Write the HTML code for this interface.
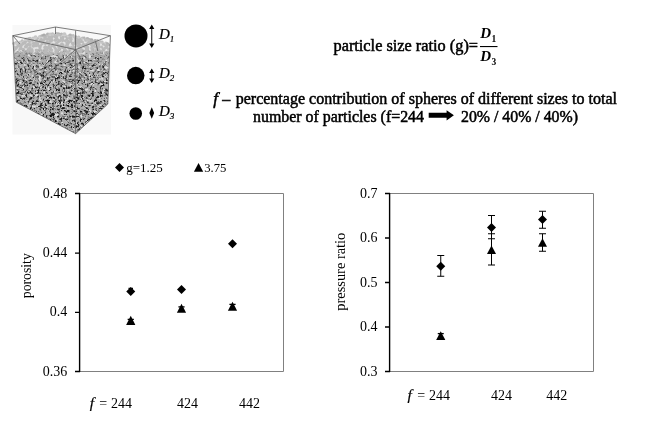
<!DOCTYPE html>
<html><head><meta charset="utf-8"><title>figure</title>
<style>
html,body{margin:0;padding:0;background:#fff;}
svg{display:block;font-family:"Liberation Serif",serif;fill:#000;}
.ax{font-size:14px;}
.lg{font-size:13.5px;}
.t{font-size:16px;stroke:#000;stroke-width:0.5;}
.it{font-style:italic;}
.d{stroke:#000;stroke-width:0.2;}
</style></head><body>
<svg width="660" height="424" viewBox="0 0 660 424">
<defs>
<filter id="nl" x="0" y="0" width="100%" height="100%" color-interpolation-filters="sRGB">
<feTurbulence type="fractalNoise" baseFrequency="0.36" numOctaves="1" seed="5"/>
<feColorMatrix type="matrix" values="0 0 0 0 0.871  0 0 0 0 0.871  0 0 0 0 0.871  0 0 0 6 -3.15"/>
</filter>
<filter id="nm" x="0" y="0" width="100%" height="100%" color-interpolation-filters="sRGB">
<feTurbulence type="fractalNoise" baseFrequency="0.38" numOctaves="2" seed="21"/>
<feColorMatrix type="matrix" values="0 0 0 0 0.439  0 0 0 0 0.439  0 0 0 0 0.439  0 0 0 7 -3.85"/>
</filter>
<filter id="nd" x="0" y="0" width="100%" height="100%" color-interpolation-filters="sRGB">
<feTurbulence type="fractalNoise" baseFrequency="0.4" numOctaves="2" seed="3"/>
<feColorMatrix type="matrix" values="0 0 0 0 0.039  0 0 0 0 0.039  0 0 0 0 0.039  0 0 0 7 -4.15"/>
</filter>
<filter id="nd2" x="0" y="0" width="100%" height="100%" color-interpolation-filters="sRGB">
<feTurbulence type="fractalNoise" baseFrequency="0.38" numOctaves="2" seed="11"/>
<feColorMatrix type="matrix" values="0 0 0 0 0.078  0 0 0 0 0.078  0 0 0 0 0.078  0 0 0 7 -4.0"/>
</filter>
<filter id="soft" x="-5%" y="-5%" width="110%" height="110%"><feGaussianBlur stdDeviation="0.35"/></filter>
<linearGradient id="fade" x1="0" y1="0" x2="0" y2="1">
<stop offset="0" stop-color="#fff" stop-opacity="0"/><stop offset="0.12" stop-color="#fff" stop-opacity="0.9"/><stop offset="1" stop-color="#fff" stop-opacity="1"/>
</linearGradient>
<mask id="lower" maskUnits="userSpaceOnUse" x="10" y="30" width="104" height="106"><rect x="10" y="49" width="104" height="90" fill="url(#fade)"/></mask>
<linearGradient id="fade2" x1="0" y1="0" x2="0" y2="1">
<stop offset="0" stop-color="#fff" stop-opacity="0"/><stop offset="0.4" stop-color="#fff" stop-opacity="1"/><stop offset="1" stop-color="#fff" stop-opacity="1"/>
</linearGradient>
<mask id="lower2" maskUnits="userSpaceOnUse" x="10" y="30" width="104" height="106"><rect x="10" y="54" width="104" height="85" fill="url(#fade2)"/></mask>
<clipPath id="sides"><polygon points="13.5,44 30,38.5 55,33.5 75.5,36.4 110,44 107.8,104 75.6,133.6 16.3,102.2"/></clipPath>
</defs>
<rect width="660" height="424" fill="#fff"/>
<!-- particle box -->
<rect x="12.5" y="25" width="98.5" height="109.5" fill="#f8f8f8"/>
<polygon points="13.5,44 30,38.5 55,33.5 75.5,36.4 110,44 107.8,104 75.6,133.6 16.3,102.2" fill="#adadad"/>
<g clip-path="url(#sides)"><g filter="url(#soft)">
<rect x="10" y="30" width="104" height="106" filter="url(#nl)"/>
<g mask="url(#lower)">
<rect x="10" y="30" width="104" height="106" filter="url(#nm)"/>
<rect x="10" y="30" width="104" height="106" filter="url(#nd)"/>
<g mask="url(#lower2)"><rect x="10" y="30" width="104" height="106" filter="url(#nd2)"/></g>
</g>
</g></g>
<g><circle cx="13.9" cy="43.4" r="1.7" fill="#bebebe"/><circle cx="16.4" cy="42.5" r="1.8" fill="#c6c6c6"/><circle cx="20.3" cy="42.2" r="1.6" fill="#c6c6c6"/><circle cx="22.2" cy="40.7" r="1.5" fill="#bebebe"/><circle cx="26.1" cy="39.3" r="1.8" fill="#c6c6c6"/><circle cx="28.6" cy="38.6" r="1.6" fill="#c6c6c6"/><circle cx="30.1" cy="38.7" r="1.9" fill="#bebebe"/><circle cx="33.1" cy="37.9" r="1.5" fill="#c6c6c6"/><circle cx="35.6" cy="37.2" r="1.9" fill="#c6c6c6"/><circle cx="39.7" cy="36.7" r="1.7" fill="#c6c6c6"/><circle cx="41.8" cy="35.8" r="1.6" fill="#b4b4b4"/><circle cx="44.0" cy="35.7" r="2.1" fill="#aaaaaa"/><circle cx="47.8" cy="34.5" r="1.9" fill="#b4b4b4"/><circle cx="50.1" cy="34.2" r="1.8" fill="#c6c6c6"/><circle cx="52.5" cy="34.0" r="1.8" fill="#bebebe"/><circle cx="56.6" cy="33.3" r="1.4" fill="#bebebe"/><circle cx="58.4" cy="34.2" r="2.0" fill="#b4b4b4"/><circle cx="61.4" cy="34.1" r="1.7" fill="#b4b4b4"/><circle cx="64.4" cy="34.3" r="2.1" fill="#c6c6c6"/><circle cx="68.0" cy="36.1" r="1.4" fill="#c6c6c6"/><circle cx="70.2" cy="35.3" r="1.9" fill="#b4b4b4"/><circle cx="73.1" cy="35.7" r="1.7" fill="#bebebe"/><circle cx="75.9" cy="36.7" r="1.5" fill="#b4b4b4"/><circle cx="78.7" cy="37.1" r="1.7" fill="#c6c6c6"/><circle cx="82.4" cy="38.1" r="1.7" fill="#bebebe"/><circle cx="84.1" cy="38.0" r="1.4" fill="#b4b4b4"/><circle cx="87.3" cy="39.2" r="2.1" fill="#b4b4b4"/><circle cx="89.6" cy="39.7" r="1.6" fill="#b4b4b4"/><circle cx="91.6" cy="40.1" r="1.9" fill="#aaaaaa"/><circle cx="95.1" cy="40.4" r="1.5" fill="#aaaaaa"/><circle cx="97.4" cy="40.7" r="1.7" fill="#bebebe"/><circle cx="100.4" cy="41.9" r="1.6" fill="#bebebe"/><circle cx="102.1" cy="42.0" r="1.6" fill="#bebebe"/><circle cx="105.9" cy="43.1" r="1.6" fill="#c6c6c6"/><circle cx="107.4" cy="44.1" r="1.8" fill="#aaaaaa"/></g>
<polygon points="13.5,44 30,38.5 55,33.5 75.5,36.4 110,44 109.8,50 75.6,57 14,51" fill="#fff" opacity="0.16"/>
<g fill="none" stroke="#5c5c5c" stroke-width="0.8">
<polygon points="12.8,35.7 55.5,27 110.4,35.7 75.6,49.6"/>
<path d="M12.8,35.7 L16.3,102.2 M110.4,35.7 L107.8,104 M75.6,30.5 L75.6,133.6 M55.5,27 L55.5,34 M75.6,49.6 L45,76 M75.6,49.6 L84,65 M95.6,41.7 L97.8,51 M12.8,35.7 L20,44 M16.3,102.2 L75.6,133.6 L107.8,104"/>
</g>
<!-- sphere legend -->
<circle cx="136" cy="35.9" r="11.5"/>
<circle cx="135.75" cy="75.6" r="8.75"/>
<circle cx="135.75" cy="113.5" r="6.3"/>
<g stroke="#000" stroke-width="1" fill="#000">
<path d="M151.75,27 V45.5"/><path d="M151.75,24.5 l-2.6,4.5 h5.2z M151.75,48 l-2.6,-4.5 h5.2z" stroke="none"/>
<path d="M151.75,71 V80.5"/><path d="M151.75,68.5 l-2.6,4.5 h5.2z M151.75,83 l-2.6,-4.5 h5.2z" stroke="none"/>
<path d="M151.75,107.3 l-2.4,5.7 l2.4,5.7 l2.4,-5.7z" stroke="none"/>
</g>
<text x="159" y="38.6" class="it d" font-size="15">D<tspan font-size="9" dy="3">1</tspan></text>
<text x="159" y="78" class="it d" font-size="15">D<tspan font-size="9" dy="3">2</tspan></text>
<text x="159" y="116.3" class="it d" font-size="15">D<tspan font-size="9" dy="3">3</tspan></text>
<!-- header text -->
<text x="333.5" y="50.8" class="t" textLength="144.5" lengthAdjust="spacingAndGlyphs">particle size ratio (g)=</text>
<text x="480.3" y="38.3" font-size="15" font-weight="bold" class="it">D<tspan font-size="9.5" dy="3.5" dx="0.3" font-style="normal">1</tspan></text>
<rect x="480" y="46" width="17.5" height="1.1"/>
<text x="480.3" y="61" font-size="15" font-weight="bold" class="it">D<tspan font-size="9.5" dy="3.5" dx="0.3" font-style="normal">3</tspan></text>
<text x="213.3" y="104.1" class="t it" style="font-size:17px">f</text><text x="222.3" y="104.1" class="t">–</text>
<text x="235.7" y="104.1" class="t" textLength="381.3" lengthAdjust="spacingAndGlyphs">percentage contribution of spheres of different sizes to total</text>
<text x="253" y="121.6" class="t" textLength="171" lengthAdjust="spacingAndGlyphs">number of particles (f=244</text>
<path d="M428.7,112.8 H446.6 V110.2 L453.9,115.3 L446.6,120.4 V117.8 H428.7z"/>
<text x="461" y="121.6" class="t" textLength="117" lengthAdjust="spacingAndGlyphs">20% / 40% / 40%)</text>
<!-- legend -->
<path d="M119.5,163 l4.5,4.5 l-4.5,4.5 l-4.5,-4.5z"/>
<text x="126.2" y="172" class="lg" textLength="36.6" lengthAdjust="spacingAndGlyphs">g=1.25</text>
<path d="M198.55,163 l4.65,8.8 h-9.3z"/>
<text x="204.2" y="172" class="lg" textLength="22.3" lengthAdjust="spacingAndGlyphs">3.75</text>
<!-- left chart -->
<g fill="none">
<path d="M80,193.5 H283.5 V371.5 H80" stroke="#808080" stroke-width="1"/>
<path d="M79.6,193 V372" stroke="#000" stroke-width="1.4"/><path d="M75,193.5 H80 M75,253.1 H80 M75,312.3 H80 M75,371.5 H80" stroke="#000" stroke-width="1.3"/>
</g>
<g class="ax" text-anchor="end">
<text x="67.3" y="198">0.48</text>
<text x="67.3" y="257.2">0.44</text>
<text x="67.3" y="316.3">0.4</text>
<text x="67.3" y="375.5">0.36</text>
</g>
<text class="ax" style="font-size:14.4px" transform="translate(31.2,298.2) rotate(-90)" textLength="45" lengthAdjust="spacingAndGlyphs">porosity</text>
<g>
<path d="M130.75,286.9 l4.5,4.5 l-4.5,4.5 l-4.5,-4.5z"/>
<path d="M181.5,285 l4.5,4.5 l-4.5,4.5 l-4.5,-4.5z"/>
<path d="M232.5,239.25 l4.5,4.5 l-4.5,4.5 l-4.5,-4.5z"/>
<path d="M130.75,315.8 l4.6,9.1 h-9.2z"/>
<path d="M181.5,303.7 l4.6,9.1 h-9.2z"/>
<path d="M232.5,301.7 l4.6,9.1 h-9.2z"/>
<path d="M127.65,319.3 h6.2 M178.4,306.8 h6.2 M229.4,304.4 h6.2 M128.5,288.3 h4.5" stroke="#000" stroke-width="1.3" fill="none"/>
</g>
<text y="408" class="ax"><tspan class="it d" x="89.8" font-size="15.5">f</tspan><tspan x="99.3">=</tspan><tspan x="111">244</tspan></text>
<text x="177" y="408" class="ax">424</text>
<text x="239" y="408" class="ax">442</text>
<!-- right chart -->
<g fill="none">
<path d="M389.5,193.5 H593.5 V371.5 H389.5" stroke="#808080" stroke-width="1"/>
<path d="M389.6,193 V372" stroke="#000" stroke-width="1.4"/><path d="M385,193.5 H390 M385,238 H390 M385,282.5 H390 M385,327 H390 M385,371.5 H390" stroke="#000" stroke-width="1.3"/>
</g>
<g class="ax" text-anchor="end">
<text x="377.5" y="198">0.7</text>
<text x="377.5" y="242.4">0.6</text>
<text x="377.5" y="286.8">0.5</text>
<text x="377.5" y="331.1">0.4</text>
<text x="377.5" y="375.5">0.3</text>
</g>
<text class="ax" style="font-size:14.6px" transform="translate(344.6,310.7) rotate(-90)" textLength="78" lengthAdjust="spacingAndGlyphs">pressure ratio</text>
<g stroke="#000" stroke-width="1" fill="none">
<path d="M440.75,255.5 V276.25 M437.25,255.5 h7 M437.25,276.25 h7"/>
<path d="M491.5,215.5 V238.75 M488,215.5 h7 M488,238.75 h7"/>
<path d="M542.5,211.25 V228.25 M539,211.25 h7 M539,228.25 h7"/>
<path d="M437.75,333.6 h6" stroke-width="1.3"/>
<path d="M491.5,233.75 V265 M488,233.75 h7 M488,265 h7"/>
<path d="M542.5,233.75 V251.25 M539,233.75 h7 M539,251.25 h7"/>
</g>
<g>
<path d="M440.75,261.75 l4.5,4.5 l-4.5,4.5 l-4.5,-4.5z"/>
<path d="M491.5,223 l4.5,4.5 l-4.5,4.5 l-4.5,-4.5z"/>
<path d="M542.5,215 l4.5,4.5 l-4.5,4.5 l-4.5,-4.5z"/>
<path d="M440.75,331.2 l4.6,8.8 h-9.2z"/>
<path d="M491.5,245.5 l4.5,8.5 h-9z"/>
<path d="M542.5,238.25 l4.5,8.5 h-9z"/>
</g>
<text y="400" class="ax"><tspan class="it d" x="407.6" font-size="15.5">f</tspan><tspan x="417.2">=</tspan><tspan x="429">244</tspan></text>
<text x="491" y="400" class="ax">424</text>
<text x="546.3" y="400" class="ax">442</text>
</svg>
</body></html>
